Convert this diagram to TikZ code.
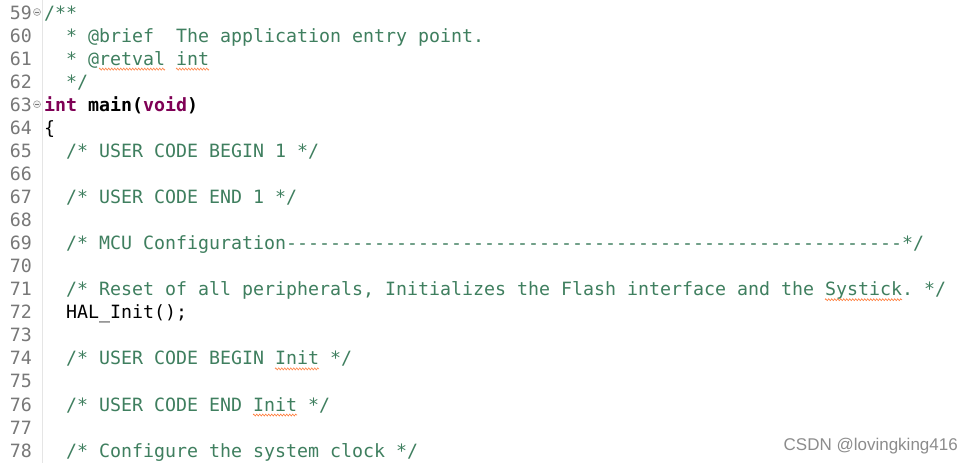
\documentclass[tikz,border=0pt]{standalone}
\usepackage{fontspec}
\newfontfamily\codefont{DejaVu Sans Mono}
\newfontfamily\wmfont{Liberation Sans}
\usetikzlibrary{decorations.pathmorphing}
\definecolor{cmtc}{RGB}{63,127,95}
\definecolor{kw}{RGB}{127,0,85}
\definecolor{lnum}{RGB}{120,120,120}
\definecolor{sq}{RGB}{255,128,64}
\frenchspacing
\begin{document}
\begin{tikzpicture}[x=1pt,y=-1pt,
  code/.style={anchor=base west,inner sep=0pt,font=\codefont\fontsize{18.27}{20}\selectfont\frenchspacing},
  num/.style={anchor=base east,inner sep=0pt,text=lnum,font=\codefont\fontsize{18.27}{20}\selectfont},
  cmnt/.style={code,text=cmtc},
  squig/.style={draw=sq,line width=0.6pt,decorate,decoration={zigzag,amplitude=1pt,segment length=3pt}},
  fold/.style={circle,draw=lnum!80,fill=lnum!10,line width=0.5pt,minimum size=7pt,inner sep=0pt}]
\useasboundingbox (0,0) rectangle (973,463);
\fill[white] (0,0) rectangle (973,463);
\draw[black!10] (42.5,0) -- (42.5,463);
% line numbers
\foreach \n [count=\i from 0] in {59,...,78}{
  \node[num] (n\n) at (32,{19+23.06*\i}) {\n};
}
\foreach \i/\nm in {0/fa,4/fb}{
  \node[fold] (\nm) at (37,{12+23.06*\i}) {};
  \draw[lnum,line width=0.6pt] ([xshift=-2pt]\nm.center) -- ([xshift=2pt]\nm.center);
}
\def\Y#1{19+23.06*(#1-59)}
\node[cmnt] (l59) at (44,{\Y{59}}) {/**};
\node[cmnt] (l60) at (66,{\Y{60}}) {* @brief\ \ The application entry point.};
\node[cmnt] (l61) at (66,{\Y{61}}) {* @retval int};
\node[cmnt] (l62) at (66,{\Y{62}}) {*/};
\node[code] (l63) at (44,{\Y{63}}) {\textcolor{kw}{\bfseries int} \bfseries main(\textcolor{kw}{void})};
\node[code] (l64) at (44,{\Y{64}}) {\{};
\node[cmnt] (l65) at (66,{\Y{65}}) {/* USER CODE BEGIN 1 */};
\node[cmnt] (l67) at (66,{\Y{67}}) {/* USER CODE END 1 */};
\node[cmnt] (l69) at (66,{\Y{69}}) {/* MCU Configuration--------------------------------------------------------*/};
\node[cmnt] (l71) at (66,{\Y{71}}) {/* Reset of all peripherals, Initializes the Flash interface and the Systick. */};
\node[code] (l72) at (66,{\Y{72}}) {HAL\_Init();};
\node[cmnt] (l74) at (66,{\Y{74}}) {/* USER CODE BEGIN Init */};
\node[cmnt] (l76) at (66,{\Y{76}}) {/* USER CODE END Init */};
\node[cmnt] (l78) at (66,{\Y{78}}) {/* Configure the system clock */};
% squiggles
\def\sqg#1#2#3{\draw[squig] ({44+11*#2},{\Y{#1}+4}) -- ({44+11*(#3+1)},{\Y{#1}+4});}
\sqg{61}{5}{10}
\sqg{61}{12}{14}
\sqg{71}{71}{77}
\sqg{74}{21}{24}
\sqg{76}{19}{22}
\node[anchor=base east,inner sep=0pt,text=black!45,font=\wmfont\fontsize{17}{18}\selectfont] (wm) at (958,450) {CSDN @lovingking416};
\end{tikzpicture}
\end{document}
